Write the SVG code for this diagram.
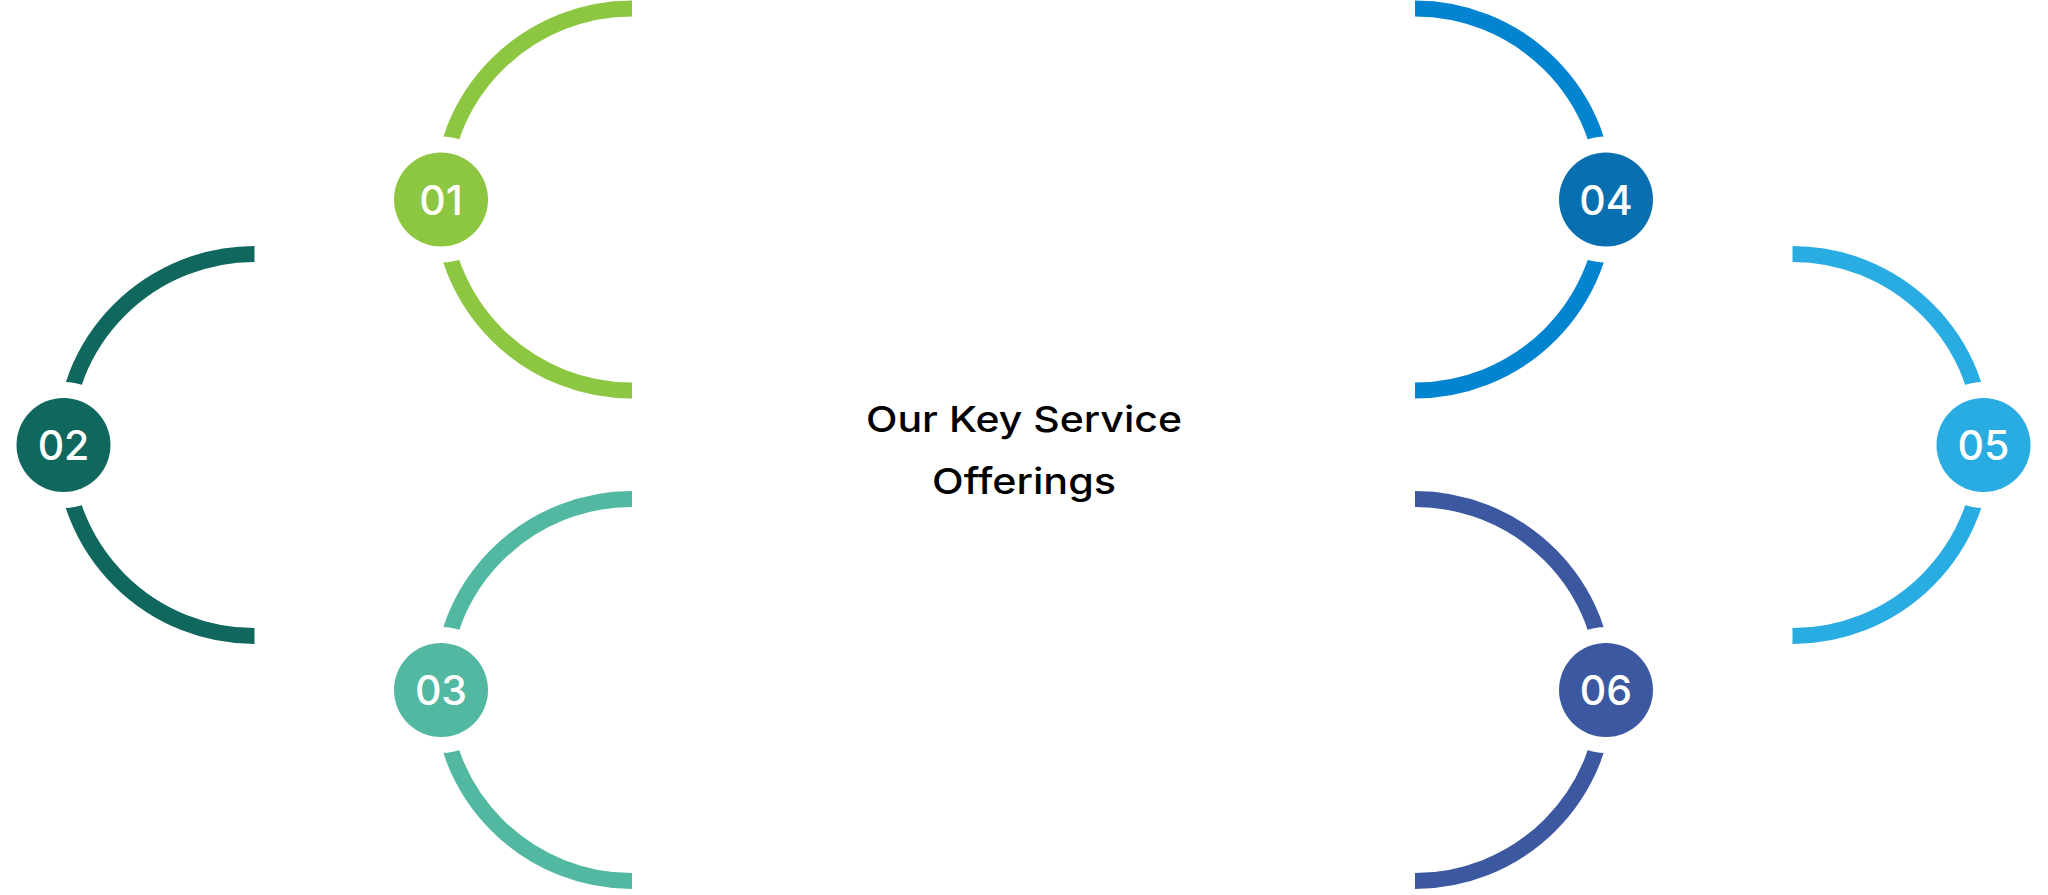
<svg xmlns="http://www.w3.org/2000/svg" width="2048" height="895" viewBox="0 0 2048 895">
  <style>
    .arc { fill: none; stroke-width: 16; }
    .halo { fill: #ffffff; }
    .num { font-family: Inter, "Open Sans", "DejaVu Sans", sans-serif; font-weight: 500; font-size: 41px; fill: #ffffff; text-anchor: middle; }
    .title { font-family: Inter, "Open Sans", "DejaVu Sans", sans-serif; font-weight: 500; font-size: 36px; fill: #000000; text-anchor: middle; }
  </style>
  <rect width="2048" height="895" fill="#ffffff"/>

  <g id="item-01">
    <path class="arc" stroke="#8DC641" d="M632,8.5 A191,191 0 0 0 632,390.5"/>
    <circle class="halo" cx="441" cy="199.5" r="63"/>
    <circle cx="441" cy="199.5" r="47" fill="#8DC641"/>
    <text class="num" x="441" y="214.5">01</text>
  </g>

  <g id="item-02">
    <path class="arc" stroke="#10675E" d="M254.5,254 A191,191 0 0 0 254.5,636"/>
    <circle class="halo" cx="63.5" cy="445" r="63"/>
    <circle cx="63.5" cy="445" r="47" fill="#10675E"/>
    <text class="num" x="63.5" y="460">02</text>
  </g>

  <g id="item-03">
    <path class="arc" stroke="#52B8A2" d="M632,499 A191,191 0 0 0 632,881"/>
    <circle class="halo" cx="441" cy="690" r="63"/>
    <circle cx="441" cy="690" r="47" fill="#52B8A2"/>
    <text class="num" x="441" y="705">03</text>
  </g>

  <g id="item-04">
    <path class="arc" stroke="#0384D1" d="M1415,8.5 A191,191 0 0 1 1415,390.5"/>
    <circle class="halo" cx="1606" cy="199.5" r="63"/>
    <circle cx="1606" cy="199.5" r="47" fill="#0870B0"/>
    <text class="num" x="1606" y="214.5">04</text>
  </g>

  <g id="item-05">
    <path class="arc" stroke="#29ACE2" d="M1792.5,254 A191,191 0 0 1 1792.5,636"/>
    <circle class="halo" cx="1983.5" cy="445" r="63"/>
    <circle cx="1983.5" cy="445" r="47" fill="#29ACE2"/>
    <text class="num" x="1983.5" y="460">05</text>
  </g>

  <g id="item-06">
    <path class="arc" stroke="#3B58A0" d="M1415,499 A191,191 0 0 1 1415,881"/>
    <circle class="halo" cx="1606" cy="690" r="63"/>
    <circle cx="1606" cy="690" r="47" fill="#3B58A0"/>
    <text class="num" x="1606" y="705">06</text>
  </g>

  <g id="title">
    <text class="title" x="1024" y="432" textLength="316" lengthAdjust="spacingAndGlyphs">Our Key Service</text>
    <text class="title" x="1024" y="494" textLength="184" lengthAdjust="spacingAndGlyphs">Offerings</text>
  </g>

  <g id="connectors"/>
</svg>
